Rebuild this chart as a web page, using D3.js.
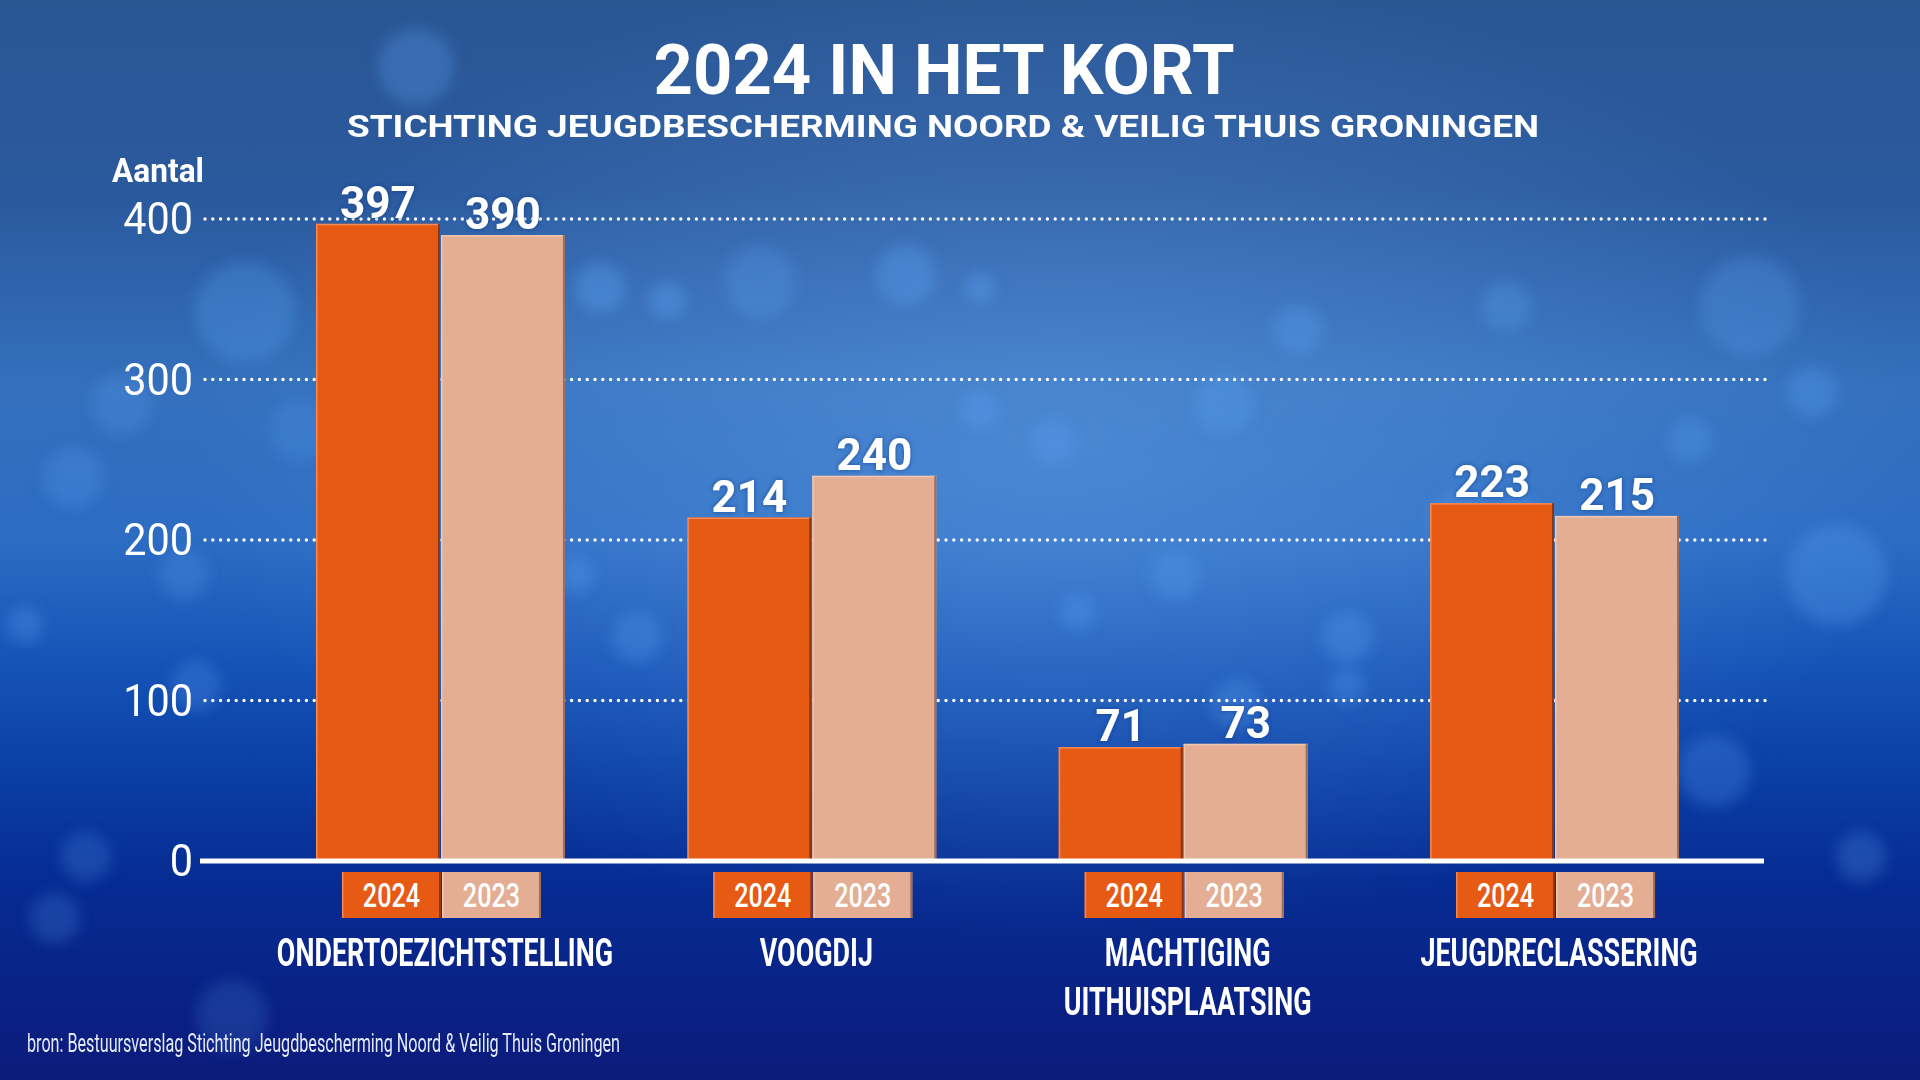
<!DOCTYPE html>
<html>
<head>
<meta charset="utf-8">
<script src="https://cdn.jsdelivr.net/npm/d3@7"></script>
<style>
  html, body { margin: 0; padding: 0; background: #0b1c7c; }
  svg { display: block; }
</style>
</head>
<body>
<script>
// data
const categories = ["ONDERTOEZICHTSTELLING", "VOOGDIJ", "MACHTIGING UITHUISPLAATSING", "JEUGDRECLASSERING"];
const categoryLines = [["ONDERTOEZICHTSTELLING"], ["VOOGDIJ"], ["MACHTIGING", "UITHUISPLAATSING"], ["JEUGDRECLASSERING"]];
const years = ["2024", "2023"];
const values2024 = [397, 214, 71, 223];
const values2023 = [390, 240, 73, 215];
const yTicks = [0, 100, 200, 300, 400];

const title = "2024 IN HET KORT";
const subtitle = "STICHTING JEUGDBESCHERMING NOORD & VEILIG THUIS GRONINGEN";
const yLabel = "Aantal";
const source = "bron: Bestuursverslag Stichting Jeugdbescherming Noord & Veilig Thuis Groningen";

// bokeh spots in the background: [x, y, r, opacity]
const bokeh = [
  [416, 67, 38, 0.3], [245, 312, 50, 0.28], [122, 404, 30, 0.25], [73, 478, 30, 0.25],
  [184, 575, 25, 0.25], [25, 625, 18, 0.3], [55, 918, 25, 0.22], [232, 1016, 36, 0.18],
  [600, 288, 25, 0.38], [667, 300, 18, 0.38], [760, 282, 36, 0.26], [906, 275, 30, 0.35],
  [980, 288, 15, 0.38], [980, 410, 18, 0.35], [1053, 441, 22, 0.32], [1224, 404, 30, 0.28],
  [1298, 330, 25, 0.32], [1506, 306, 25, 0.28], [1750, 306, 50, 0.26], [1812, 392, 25, 0.32],
  [1837, 575, 50, 0.3], [1616, 612, 25, 0.32], [1347, 637, 25, 0.32], [1175, 575, 25, 0.28],
  [1078, 612, 18, 0.32], [1237, 704, 25, 0.28], [1347, 686, 18, 0.28], [784, 686, 12, 0.32],
  [196, 686, 25, 0.26], [86, 857, 25, 0.22], [1714, 771, 36, 0.26], [1861, 857, 25, 0.25],
  [637, 637, 25, 0.28], [576, 575, 18, 0.32], [1518, 514, 18, 0.32], [857, 563, 25, 0.28],
  [1690, 440, 22, 0.28], [1460, 520, 30, 0.26], [300, 430, 30, 0.2], [1590, 700, 30, 0.28]
];

const W = 1920, H = 1080;
const fontMain = "Roboto, 'DejaVu Sans', sans-serif";

const svg = d3.select("body").append("svg")
  .attr("width", W)
  .attr("height", H);

const defs = svg.append("defs");

const bg = defs.append("linearGradient")
  .attr("id", "bg")
  .attr("x1", 0).attr("y1", 0).attr("x2", 0).attr("y2", 1);
[["0%", "#2b5694"], ["18%", "#2a599d"], ["36%", "#3470bd"], ["50%", "#2c6cc3"],
 ["62%", "#1552b6"], ["72%", "#0a3ea4"], ["82%", "#062b92"], ["100%", "#0b1b7b"]]
  .forEach(s => bg.append("stop").attr("offset", s[0]).attr("stop-color", s[1]));

const glow = defs.append("radialGradient")
  .attr("id", "glow")
  .attr("cx", 0.55).attr("cy", 0.42).attr("r", 0.45);
glow.append("stop").attr("offset", "0%").attr("stop-color", "#6aa6ea").attr("stop-opacity", 0.45);
glow.append("stop").attr("offset", "100%").attr("stop-color", "#6aa6ea").attr("stop-opacity", 0);

defs.append("filter")
  .attr("id", "blur")
  .attr("x", "-50%").attr("y", "-50%").attr("width", "200%").attr("height", "200%")
  .append("feGaussianBlur")
  .attr("stdDeviation", 7);

defs.append("filter")
  .attr("id", "textGlow")
  .attr("x", "-20%").attr("y", "-20%").attr("width", "140%").attr("height", "140%")
  .append("feDropShadow")
  .attr("dx", 0).attr("dy", 0)
  .attr("stdDeviation", 2)
  .attr("flood-color", "#0d2f78")
  .attr("flood-opacity", 0.6);

// background
svg.append("rect").attr("width", W).attr("height", H).attr("fill", "url(#bg)");
svg.append("rect").attr("width", W).attr("height", H).attr("fill", "url(#glow)");

svg.append("g")
  .attr("filter", "url(#blur)")
  .selectAll("circle")
  .data(bokeh)
  .join("circle")
  .attr("cx", d => d[0])
  .attr("cy", d => d[1])
  .attr("r", d => d[2])
  .attr("fill", "#5aa0f5")
  .attr("opacity", d => d[3]);

// titles
svg.append("text")
  .attr("x", 944).attr("y", 94)
  .attr("text-anchor", "middle")
  .attr("font-family", fontMain)
  .attr("font-weight", 700)
  .attr("font-size", 71)
  .attr("fill", "#fff")
  .attr("textLength", 581)
  .attr("lengthAdjust", "spacingAndGlyphs")
  .text(title);

svg.append("text")
  .attr("x", 943).attr("y", 137)
  .attr("text-anchor", "middle")
  .attr("font-family", fontMain)
  .attr("font-weight", 700)
  .attr("font-size", 32)
  .attr("fill", "#fff")
  .attr("textLength", 1192)
  .attr("lengthAdjust", "spacingAndGlyphs")
  .text(subtitle);

svg.append("text")
  .attr("x", 112).attr("y", 182)
  .attr("font-family", fontMain)
  .attr("font-weight", 700)
  .attr("font-size", 33)
  .attr("fill", "#fff")
  .attr("textLength", 92)
  .attr("lengthAdjust", "spacingAndGlyphs")
  .text(yLabel);

// scales
const y = d3.scaleLinear().domain([0, 400]).range([861, 219]);

const x0 = d3.scaleBand()
  .domain(categories)
  .range([316, 1680])
  .paddingInner(0.327)
  .paddingOuter(0);

const x1 = d3.scaleBand()
  .domain(years)
  .range([0, x0.bandwidth()]);

const colors = { "2024": "#e65a14", "2023": "#e3ae94" };
const edgeDark = { "2024": "#8e3610", "2023": "#9c6e5c" };
const edgeLight = { "2024": "#f08a58", "2023": "#efc6b2" };

// squeeze text to look like the condensed DIN type
function condense(sel, k) {
  sel.each(function () {
    const w = this.getComputedTextLength();
    d3.select(this)
      .attr("textLength", w * k)
      .attr("lengthAdjust", "spacingAndGlyphs");
  });
}

// grid lines
svg.append("g")
  .selectAll("line")
  .data(yTicks.filter(d => d > 0))
  .join("line")
  .attr("x1", 205).attr("x2", 1769)
  .attr("y1", d => y(d)).attr("y2", d => y(d))
  .attr("stroke", "#fff")
  .attr("stroke-width", 3.4)
  .attr("stroke-linecap", "round")
  .attr("stroke-dasharray", "0 7.8");

// y tick labels
svg.append("g")
  .selectAll("text")
  .data(yTicks)
  .join("text")
  .attr("x", 193)
  .attr("y", d => y(d) + 15)
  .attr("text-anchor", "end")
  .attr("font-family", fontMain)
  .attr("font-weight", 400)
  .attr("font-size", 45)
  .attr("fill", "#fff")
  .text(d => d)
  .call(condense, 0.92);

// bars
const rows = categories.map((c, i) => ({
  category: c,
  lines: categoryLines[i],
  values: [
    { year: "2024", value: values2024[i] },
    { year: "2023", value: values2023[i] }
  ]
}));

const groups = svg.append("g")
  .selectAll("g")
  .data(rows)
  .join("g")
  .attr("transform", d => `translate(${x0(d.category)},0)`);

const bw = x1.bandwidth() - 1;

const bars = groups.selectAll("g.bar")
  .data(d => d.values)
  .join("g")
  .attr("class", "bar");

bars.append("rect")
  .attr("x", d => x1(d.year))
  .attr("y", d => y(d.value))
  .attr("width", bw)
  .attr("height", d => y(0) - y(d.value))
  .attr("fill", d => colors[d.year]);

bars.append("rect")
  .attr("x", d => x1(d.year))
  .attr("y", d => y(d.value))
  .attr("width", bw)
  .attr("height", 1.5)
  .attr("fill", d => edgeLight[d.year]);

bars.append("rect")
  .attr("x", d => x1(d.year))
  .attr("y", d => y(d.value))
  .attr("width", 1.5)
  .attr("height", d => y(0) - y(d.value))
  .attr("fill", d => edgeLight[d.year]);

bars.append("rect")
  .attr("x", d => x1(d.year) + bw - 2)
  .attr("y", d => y(d.value))
  .attr("width", 2)
  .attr("height", d => y(0) - y(d.value))
  .attr("fill", d => edgeDark[d.year]);

// value labels
bars.append("text")
  .attr("x", d => x1(d.year) + bw / 2)
  .attr("y", d => y(d.value) - 6)
  .attr("text-anchor", "middle")
  .attr("font-family", fontMain)
  .attr("font-weight", 700)
  .attr("font-size", 44)
  .attr("fill", "#fff")
  .attr("filter", "url(#textGlow)")
  .text(d => d.value);

// baseline
svg.append("line")
  .attr("x1", 200).attr("x2", 1764)
  .attr("y1", y(0)).attr("y2", y(0))
  .attr("stroke", "#fff")
  .attr("stroke-width", 5);

// year boxes under every group
const boxW = 99, boxH = 46, boxTop = 872;

const boxes = groups.selectAll("g.box")
  .data(years)
  .join("g")
  .attr("class", "box")
  .attr("transform", (d, i) => `translate(${x0.bandwidth() / 2 - boxW + i * (boxW + 1)},${boxTop})`);

boxes.append("rect")
  .attr("width", boxW)
  .attr("height", boxH)
  .attr("fill", d => colors[d]);

boxes.append("rect")
  .attr("x", boxW - 2)
  .attr("width", 2)
  .attr("height", boxH)
  .attr("fill", d => edgeDark[d]);

boxes.append("rect")
  .attr("width", 1.5)
  .attr("height", boxH)
  .attr("fill", d => edgeLight[d]);

boxes.append("text")
  .attr("x", boxW / 2)
  .attr("y", 35)
  .attr("text-anchor", "middle")
  .attr("font-family", fontMain)
  .attr("font-weight", 500)
  .attr("font-size", 34)
  .attr("fill", "#fff")
  .text(d => d)
  .call(condense, 0.74);

// category labels
groups.append("text")
  .attr("text-anchor", "middle")
  .attr("font-family", fontMain)
  .attr("font-weight", 700)
  .attr("font-size", 39)
  .attr("fill", "#fff")
  .selectAll("tspan")
  .data(d => d.lines)
  .join("tspan")
  .attr("x", x0.bandwidth() / 2 + 4)
  .attr("y", (d, i) => 966 + i * 49)
  .text(d => d)
  .call(condense, 0.69);

// source
svg.append("text")
  .attr("x", 27).attr("y", 1052)
  .attr("font-family", fontMain)
  .attr("font-weight", 400)
  .attr("font-size", 26)
  .attr("fill", "#e4e9f6")
  .attr("textLength", 593)
  .attr("lengthAdjust", "spacingAndGlyphs")
  .text(source);
</script>
</body>
</html>
